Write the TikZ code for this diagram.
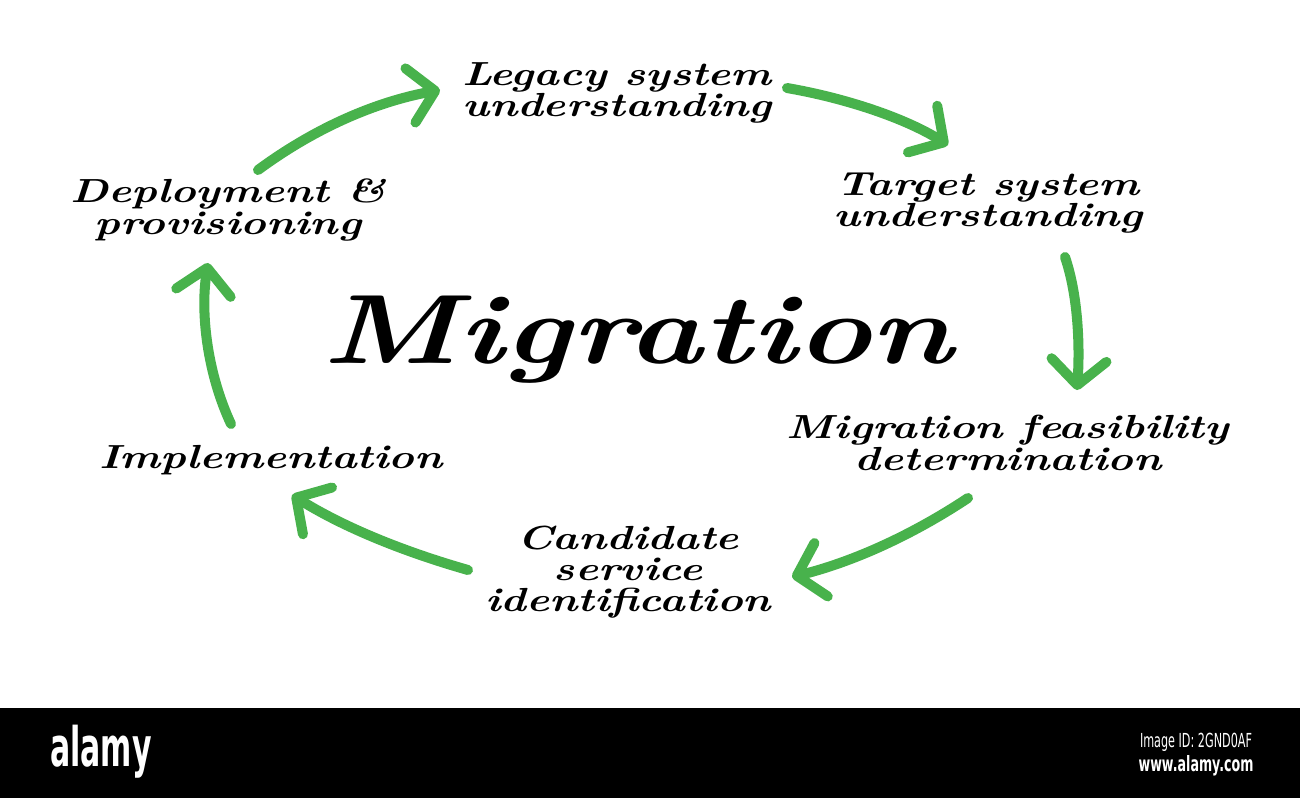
\documentclass[tikz,border=0pt]{standalone}
\usepackage{fontspec}
\usepackage{tikz}
\usetikzlibrary{arrows.meta,positioning}
\definecolor{mggreen}{RGB}{72,178,76}
\newfontfamily\bandfont{DejaVu Sans}
\tikzstyle{flow} = [line width=5.7pt,line cap=round,draw=mggreen,-{Straight Barb[length=5mm,width=11mm,round]}]
\tikzstyle{stage} = [align=center,inner sep=0pt,font=\fontsize{19}{17.8}\selectfont\bfseries\itshape,xscale=1.3]

\begin{document}
\begin{tikzpicture}[x=0.02cm, y=-0.02cm]
\useasboundingbox (0,0) rectangle (1300,798);
\fill[white] (0,0) rectangle (1300,708);
% Stages around the cycle
\node[stage] (legacy) at (617,93) {Legacy system\\understanding};
\node[stage] (target) at (988,203) {Target system\\understanding};
\node[stage] (feasib) at (1008,443) {Migration feasibility\\determination};
\node[stage] (candid) at (628,572) {Candidate\\service\\identification};
\node[stage] (implem) at (271,460) {Implementation};
\node[stage] (deploy) at (228,210) {Deployment \&\\provisioning};
% Centre title
\node[stage,font=\fontsize{56}{60}\selectfont\bfseries\itshape,xscale=0.99] (migr) at (638,340) {Migration};
% Arrow ends
\coordinate (a1s) at (258,170); \coordinate (a1e) at (440,90);
\coordinate (a2s) at (787,88);  \coordinate (a2e) at (948,145);
\coordinate (a3s) at (1065,257); \coordinate (a3e) at (1077,390);
\coordinate (a4s) at (968,498); \coordinate (a4e) at (792,577);
\coordinate (a5s) at (468,570); \coordinate (a5e) at (292,495);
\coordinate (a6s) at (231,424); \coordinate (a6e) at (208,263);
% Arrows of the cycle
\draw[flow] (a1s) .. controls (315,128) and (375,102) .. (a1e);
\draw[flow] (a2s) .. controls (845,98) and (905,118) .. (a2e);
\draw[flow] (a3s) .. controls (1078,295) and (1080,345) .. (a3e);
\draw[flow] (a4s) .. controls (920,530) and (860,560) .. (a4e);
\draw[flow] (a5s) .. controls (405,552) and (345,528) .. (a5e);
\draw[flow] (a6s) .. controls (208,375) and (200,315) .. (a6e);
% Watermark band
\fill[black] (0,708) rectangle (1300,798);
\node[white,font=\fontsize{31}{31}\bandfont\bfseries,xscale=0.55] (alamy) at (101,752) {alamy};
\node[white,font=\fontsize{11}{11}\bandfont,xscale=0.58] (imgid) at (1196,742) {Image ID: 2GND0AF};
\node[white,font=\fontsize{12}{12}\bandfont\bfseries,xscale=0.6] (alweb) at (1196,766) {www.alamy.com};
\end{tikzpicture}
\end{document}
